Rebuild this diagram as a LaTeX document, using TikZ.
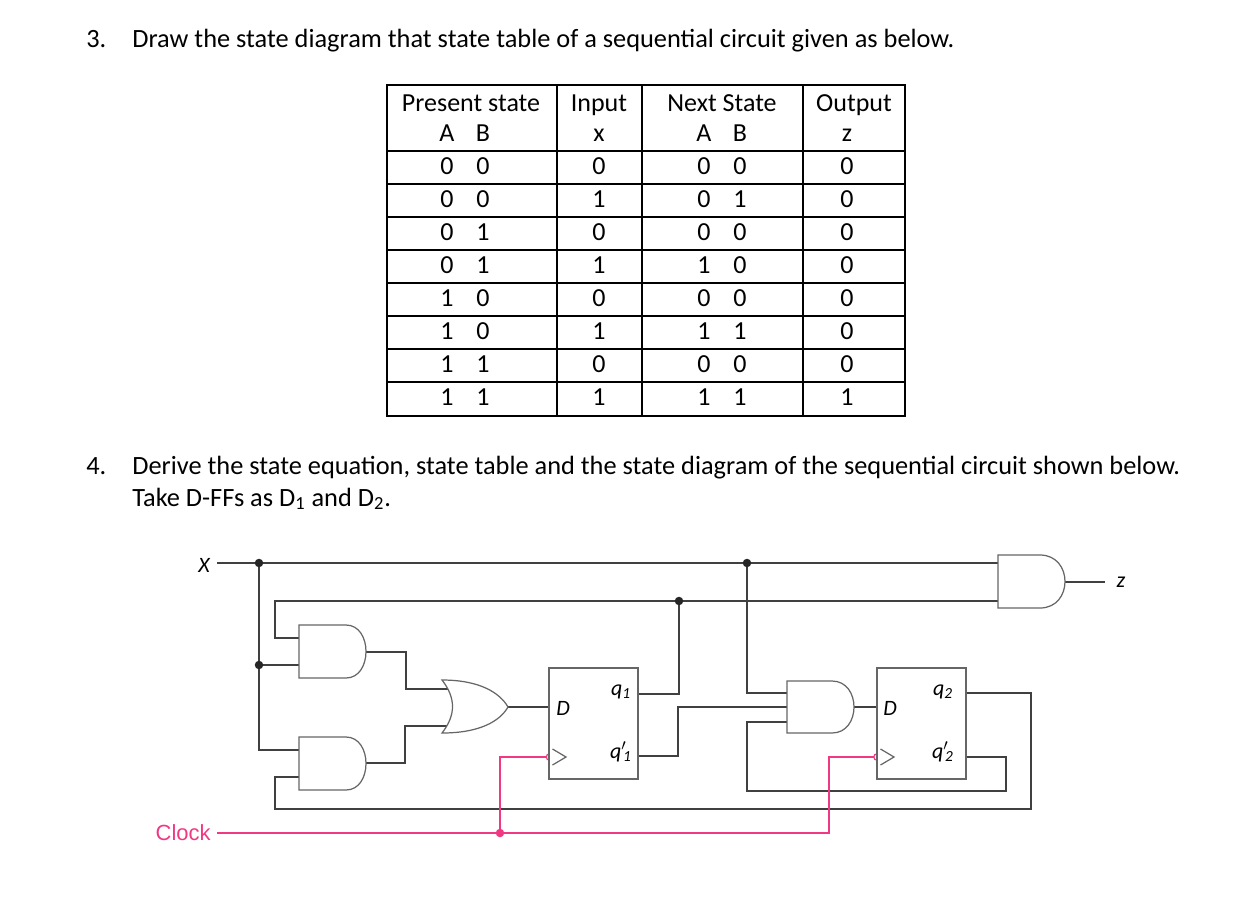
\documentclass[tikz,border=0pt]{standalone}
\usepackage{fontspec}
\setmainfont{Carlito}
\newfontfamily\cfont{Liberation Sans}
\begin{document}
\begin{tikzpicture}[x=0.02cm,y=-0.02cm,
  wire/.style={draw=black!75,line width=0.6pt},
  gate/.style={draw=black!60,line width=0.7pt,fill=white},
  clk/.style={draw=magenta!70!red!80,line width=0.7pt},
  dot/.style={circle,fill=black!85,inner sep=0pt,minimum size=0.17cm},
  pdot/.style={circle,fill=magenta!70!red!80,inner sep=0pt,minimum size=0.17cm},
  tt/.style={font=\fontsize{14.8}{16}\selectfont,inner sep=0pt,anchor=base},
  lbl/.style={font=\fontsize{12.5}{14}\selectfont\itshape,inner sep=0pt}]
\useasboundingbox (0,0) rectangle (1260,900);
% Titles
\begin{scope}[every node/.style={font=\fontsize{15}{17}\selectfont,inner sep=0pt,anchor=base west}]
\node (n3) at (86,47) {3.};
\node (t3) at (132,47) {Draw the state diagram that state table of a sequential circuit given as below.};
\node (n4) at (86,474) {4.};
\node (t4) at (132,474) {Derive the state equation, state table and the state diagram of the sequential circuit shown below.};
\node (t4b) at (132,506) {Take D-FFs as D\textsubscript{1} and D\textsubscript{2}.};
\end{scope}
% Table
\draw[line width=1.3pt] (387,85) rectangle (905,416);
\foreach \cx in {557,642,803} \draw[line width=1.1pt] (\cx,85) -- (\cx,416);
\foreach \k in {0,...,7} \draw[line width=1.1pt] (387,151+33*\k) -- (905,151+33*\k);
\node[tt] (h1) at (471,111) {Present state};
\node[tt] (h2) at (599,111) {Input};
\node[tt] (h3) at (722,111) {Next State};
\node[tt] (h4) at (854,111) {Output};
\node[tt] (hA) at (447,141) {A};
\node[tt] (hB) at (483,141) {B};
\node[tt] (hx) at (599,141) {x};
\node[tt] (hA2) at (704,141) {A};
\node[tt] (hB2) at (740,141) {B};
\node[tt] (hz) at (847,141) {z};
\foreach \a/\b/\x/\na/\nb/\z [count=\i from 0] in {0/0/0/0/0/0,0/0/1/0/1/0,0/1/0/0/0/0,0/1/1/1/0/0,1/0/0/0/0/0,1/0/1/1/1/0,1/1/0/0/0/0,1/1/1/1/1/1}{
  \node[tt] (ra\i) at (447,174+33*\i) {\a};
  \node[tt] (rb\i) at (483,174+33*\i) {\b};
  \node[tt] (rx\i) at (599,174+33*\i) {\x};
  \node[tt] (rna\i) at (704,174+33*\i) {\na};
  \node[tt] (rnb\i) at (740,174+33*\i) {\nb};
  \node[tt] (rz\i) at (847,174+33*\i) {\z};
}
% ---------- circuit ----------
\coordinate (xin) at (217,563);
\coordinate (xd1) at (259,563);
\coordinate (xd2) at (259,665);
\coordinate (xd3) at (747,563);
\coordinate (qd) at (679,601);
\coordinate (ck) at (217,833);
\coordinate (ckd) at (500,833);
\node[lbl] (X) at (204,565) {X};
\node[font=\fontsize{12.5}{14}\selectfont\cfont,text=magenta!70!red!80,inner sep=0pt,anchor=east] (Clock) at (211,833) {Clock};
\node[lbl] (Z) at (1121,582) {z};
\draw[wire] (xin) -- (998,563);
\draw[wire] (xd1) -- (259,750) -- (299,750);
\draw[wire] (xd2) -- (299,665);
\draw[wire] (xd3) -- (747,693) -- (787,693);
\draw[wire] (299,638) -- (275,638) -- (275,601) -- (998,601);
\draw[wire] (638,694) -- (679,694) -- (qd);
\draw[wire] (638,756) -- (678,756) -- (678,707) -- (787,707);
\draw[wire] (366,652) -- (406,652) -- (406,689) -- (449,689);
\draw[wire] (366,763) -- (405,763) -- (405,726) -- (449,726);
\draw[wire] (508,707) -- (549,707);
\draw[wire] (299,777) -- (275,777) -- (275,809) -- (1031,809) -- (1031,693) -- (966,693);
\draw[wire] (966,757) -- (1006,757) -- (1006,791) -- (747,791) -- (747,722) -- (787,722);
\draw[wire] (854,707) -- (877,707);
\draw[wire] (1065,582) -- (1105,582);
\draw[clk] (ck) -- (829,833) -- (829,757) -- (874,757);
\draw[clk] (ckd) -- (500,757) -- (546,757);
\draw[clk] (549.5,757) circle (3.2);
\draw[clk] (877,757) circle (3.2);
\node[dot] (d1) at (xd1) {};
\node[dot] (d2) at (xd2) {};
\node[dot] (d3) at (xd3) {};
\node[dot] (d4) at (qd) {};
\node[pdot] (d5) at (ckd) {};
\foreach \l/\t/\b/\f/\p in {299/625/678/346/366, 299/737/790/346/366, 787/681/733/832/854, 998/555/608/1040/1065}{
  \draw[gate] (\l,\t) -- (\f,\t) .. controls ({\f+1.333*(\p-\f)},\t) and ({\f+1.333*(\p-\f)},\b) .. (\f,\b) -- (\l,\b) -- cycle;
}
\draw[gate] (442,680) .. controls (480,680) and (500,693) .. (508,707)
  .. controls (500,721) and (480,733) .. (442,733) .. controls (456,715) and (456,698) .. (442,680) -- cycle;
\draw[gate] (549,668) rectangle (638,779);
\draw[gate] (877,668) rectangle (966,779);
\draw[gate] (552.5,749) -- (566,757) -- (552.5,765);
\draw[gate] (880.5,749) -- (894,757) -- (880.5,765);
\node[lbl] (D1) at (563,708) {D};
\node[lbl] (q1) at (621,692) {q\textsubscript{1}};
\node[lbl] (q1b) at (621,752) {q$'$\kern-2pt\textsubscript{1}};
\node[lbl] (D2) at (890,708) {D};
\node[lbl] (q2) at (943,692) {q\textsubscript{2}};
\node[lbl] (q2b) at (943,752) {q$'$\kern-2pt\textsubscript{2}};
\end{tikzpicture}
\end{document}
